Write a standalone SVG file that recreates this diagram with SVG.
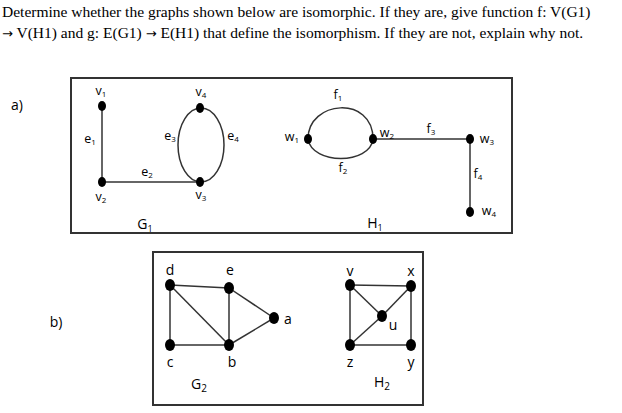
<svg xmlns="http://www.w3.org/2000/svg" width="622" height="413" viewBox="0 0 622 413">
<style>
.t{font-family:"Liberation Serif",serif;font-size:15.5px;fill:#000}
.ar{font-family:"DejaVu Sans",sans-serif;font-size:13px}
.l{font-family:"Open Sans","DejaVu Sans",sans-serif;font-size:12.5px;fill:#000;text-anchor:middle}
.g{font-family:"Open Sans","DejaVu Sans",sans-serif;font-size:14px;fill:#000;text-anchor:middle}
.e{stroke:#333;stroke-width:1.5;fill:none}
.n{fill:#000}
.b{fill:#fff;stroke:#333;stroke-width:2}
</style>
<rect width="622" height="413" fill="#fff"/>
<text class="t" x="2" y="17">Determine whether the graphs shown below are isomorphic. If they are, give function f: V(G1)</text>
<text class="t" x="2" y="38"><tspan class="ar">→</tspan> V(H1) and g: E(G1) <tspan class="ar">→</tspan> E(H1) that define the isomorphism. If they are not, explain why not.</text>
<text class="g" x="17" y="110">a)</text>
<text class="g" x="56" y="327">b)</text>
<rect class="b" x="71" y="78" width="441" height="155"/>
<rect class="b" x="153" y="252" width="270" height="153" stroke-width="1.5"/>
<g id="connectors">
<line class="e" x1="102" y1="106" x2="102" y2="182"/>
<line class="e" x1="102" y1="182" x2="200" y2="182" stroke="#888"/>
<ellipse class="e" cx="201" cy="145" rx="23" ry="37"/>
<path class="e" d="M308,139 C308,100 373,95 373,139"/>
<path class="e" d="M308,139 C312,165 370,165 373,139"/>
<line class="e" x1="373" y1="139" x2="470" y2="139" stroke="#888"/>
<line class="e" x1="470" y1="139" x2="470" y2="212"/>
<line class="e" x1="170" y1="285" x2="229" y2="288"/>
<line class="e" x1="170" y1="285" x2="170" y2="345"/>
<line class="e" x1="170" y1="285" x2="229" y2="345"/>
<line class="e" x1="170" y1="345" x2="229" y2="345"/>
<line class="e" x1="229" y1="288" x2="229" y2="345"/>
<line class="e" x1="229" y1="288" x2="274" y2="318"/>
<line class="e" x1="229" y1="345" x2="274" y2="318"/>
<line class="e" x1="350" y1="285" x2="411" y2="286"/>
<line class="e" x1="350" y1="285" x2="350" y2="345"/>
<line class="e" x1="350" y1="285" x2="382" y2="316"/>
<line class="e" x1="411" y1="286" x2="382" y2="316"/>
<line class="e" x1="350" y1="345" x2="382" y2="316"/>
<line class="e" x1="411" y1="286" x2="411" y2="345"/>
<line class="e" x1="350" y1="345" x2="411" y2="345"/>
</g>
<g id="v1"><ellipse class="n" cx="102" cy="106" rx="4" ry="5"/><text class="l" x="101" y="95">v<tspan font-size="8" dy="2">1</tspan></text></g>
<g id="v2"><ellipse class="n" cx="102" cy="182" rx="4" ry="5"/><text class="l" x="101" y="201">v<tspan font-size="8" dy="2">2</tspan></text></g>
<g id="v3"><ellipse class="n" cx="200" cy="182" rx="4" ry="5"/><text class="l" x="201" y="199">v<tspan font-size="8" dy="2">3</tspan></text></g>
<g id="v4"><ellipse class="n" cx="200" cy="108" rx="4" ry="5"/><text class="l" x="201" y="96">v<tspan font-size="8" dy="2">4</tspan></text></g>
<g id="elabels">
<text class="l" x="90" y="143">e<tspan font-size="8" dy="2">1</tspan></text>
<text class="l" x="147" y="176">e<tspan font-size="8" dy="2">2</tspan></text>
<text class="l" x="170" y="140">e<tspan font-size="8" dy="2">3</tspan></text>
<text class="l" x="233" y="140">e<tspan font-size="8" dy="2">4</tspan></text>
<text class="l" x="338" y="99">f<tspan font-size="8" dy="2">1</tspan></text>
<text class="l" x="343" y="172">f<tspan font-size="8" dy="2">2</tspan></text>
<text class="l" x="431" y="133">f<tspan font-size="8" dy="2">3</tspan></text>
<text class="l" x="478" y="178">f<tspan font-size="8" dy="2">4</tspan></text>
<text class="g" x="145" y="229">G<tspan font-size="9" dy="3">1</tspan></text>
<text class="g" x="375" y="228">H<tspan font-size="9" dy="3">1</tspan></text>
</g>
<g id="w1"><ellipse class="n" cx="308" cy="139" rx="4" ry="5"/><text class="l" x="292" y="141">w<tspan font-size="8" dy="2">1</tspan></text></g>
<g id="w2"><ellipse class="n" cx="373" cy="139" rx="4" ry="5"/><text class="l" x="387" y="137">w<tspan font-size="8" dy="2">2</tspan></text></g>
<g id="w3"><ellipse class="n" cx="470" cy="139" rx="4" ry="5"/><text class="l" x="487" y="143">w<tspan font-size="8" dy="2">3</tspan></text></g>
<g id="w4"><ellipse class="n" cx="470" cy="212" rx="4" ry="5"/><text class="l" x="489" y="215">w<tspan font-size="8" dy="2">4</tspan></text></g>
<g id="d"><ellipse class="n" cx="170" cy="285" rx="5" ry="6"/><text class="g" x="170" y="275">d</text></g>
<g id="e"><ellipse class="n" cx="229" cy="288" rx="5" ry="6"/><text class="g" x="230" y="275">e</text></g>
<g id="a"><ellipse class="n" cx="274" cy="318" rx="5" ry="6"/><text class="g" x="288" y="324">a</text></g>
<g id="c"><ellipse class="n" cx="170" cy="345" rx="5" ry="6"/><text class="g" x="170" y="367">c</text></g>
<g id="b"><ellipse class="n" cx="229" cy="345" rx="5" ry="6"/><text class="g" x="232" y="367">b</text></g>
<text class="g" x="199" y="389">G<tspan font-size="10" dy="3">2</tspan></text>
<g id="v"><ellipse class="n" cx="350" cy="285" rx="5" ry="6"/><text class="g" x="350" y="276">v</text></g>
<g id="x"><ellipse class="n" cx="411" cy="286" rx="5" ry="6"/><text class="g" x="411" y="276">x</text></g>
<g id="u"><ellipse class="n" cx="382" cy="316" rx="5" ry="6"/><text class="g" x="393" y="330">u</text></g>
<g id="z"><ellipse class="n" cx="350" cy="345" rx="5" ry="6"/><text class="g" x="350" y="367">z</text></g>
<g id="y"><ellipse class="n" cx="411" cy="345" rx="5" ry="6"/><text class="g" x="411" y="367">y</text></g>
<text class="g" x="382" y="387">H<tspan font-size="10" dy="3">2</tspan></text>
</svg>
